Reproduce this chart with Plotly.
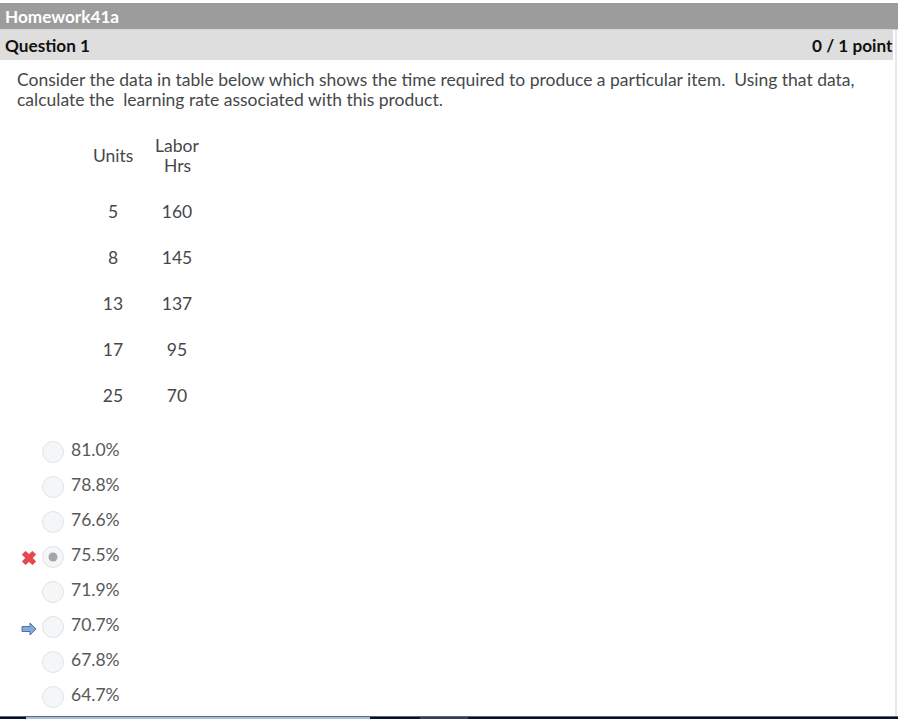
import plotly.graph_objects as go

# ---- data ----
header_title = "Homework41a"
question_label = "Question 1"
score_label = "0 / 1 point"
question_lines = [
    "Consider the data in table below which shows the time required to produce a particular item.  Using that data,",
    "calculate the  learning rate associated with this product.",
]
table_headers = ["Units", "Labor", "Hrs"]
units = [5, 8, 13, 17, 25]
labor_hrs = [160, 145, 137, 95, 70]
options = ["81.0%", "78.8%", "76.6%", "75.5%", "71.9%", "70.7%", "67.8%", "64.7%"]
selected_index = 3   # answer chosen (wrong)
correct_index = 5    # correct answer

# ---- layout constants ----
W, H = 898, 719
FONT = "Lato, 'Open Sans', sans-serif"
TXT = "#45484a"
FS = 17.5

col_x = [113, 177]
row_y0, row_dy = 214, 46
opt_y0, opt_dy = 452, 35
radio_x, opt_text_x = 53, 71

fig = go.Figure()

# table values
for ci, col in enumerate([units, labor_hrs]):
    fig.add_trace(go.Scatter(
        x=[col_x[ci]] * len(col),
        y=[row_y0 + row_dy * i for i in range(len(col))],
        mode="text", text=[str(v) for v in col],
        textfont=dict(family=FONT, size=FS, color=TXT),
        textposition="middle center", hoverinfo="skip", showlegend=False,
    ))

# radio buttons
oy = [opt_y0 + opt_dy * i for i in range(len(options))]
fig.add_trace(go.Scatter(
    x=[radio_x] * len(options), y=oy, mode="markers",
    marker=dict(symbol="circle", size=21, color="#f5f6f8",
                line=dict(color="#e1e3e6", width=1)),
    hoverinfo="skip", showlegend=False,
))
# selected dot
fig.add_trace(go.Scatter(
    x=[radio_x], y=[oy[selected_index]], mode="markers",
    marker=dict(symbol="circle", size=9, color="#a3a5a8", line=dict(width=0)),
    hoverinfo="skip", showlegend=False,
))
# wrong mark
fig.add_trace(go.Scatter(
    x=[29], y=[oy[selected_index] + 1], mode="markers",
    marker=dict(symbol="x", size=12, color="#e8474b", line=dict(color="#c0282c", width=0.5)),
    hoverinfo="skip", showlegend=False,
))
# option text
fig.add_trace(go.Scatter(
    x=[opt_text_x] * len(options), y=[v for v in oy], mode="text",
    text=options, textposition="middle right",
    textfont=dict(family=FONT, size=FS, color="#565a5c"),
    hoverinfo="skip", showlegend=False,
))

shapes = [
    # header bars
    dict(type="rect", x0=0, x1=898, y0=3, y1=29.5, fillcolor="#9c9c9c", line=dict(width=0), layer="below"),
    dict(type="rect", x0=0, x1=893, y0=29.5, y1=60, fillcolor="#dedede", line=dict(width=0), layer="below"),
    # right edge line
    dict(type="line", x0=896, x1=896, y0=29, y1=719, line=dict(color="#cfcfcf", width=1)),
    # bottom strip
    dict(type="line", x0=0, x1=898, y0=716.5, y1=716.5, line=dict(color="#3a6ea8", width=1)),
    dict(type="rect", x0=0, x1=898, y0=717, y1=719, fillcolor="#111111", line=dict(width=0)),
    dict(type="rect", x0=26, x1=370, y0=717, y1=719, fillcolor="#b8bcc2", line=dict(width=0)),
    dict(type="rect", x0=420, x1=468, y0=717, y1=719, fillcolor="#3c3c3c", line=dict(width=0)),
]
# correct-answer arrow
ay = oy[correct_index] + 2
shapes.append(dict(
    type="path",
    path=f"M 22 {ay-2.5} L 30 {ay-2.5} L 30 {ay-6} L 36 {ay} L 30 {ay+6} L 30 {ay+2.5} L 22 {ay+2.5} Z",
    fillcolor="#86a8d8", line=dict(color="#4f73a8", width=1),
))

annotations = [
    dict(x=3, y=16, text=f"<b>{header_title}</b>", xanchor="left", yanchor="middle",
         font=dict(family=FONT, size=17.2, color="white")),
    dict(x=3, y=45, text=f"<b>{question_label}</b>", xanchor="left", yanchor="middle",
         font=dict(family=FONT, size=17.2, color="#111111")),
    dict(x=895, y=45, text=f"<b>{score_label}</b>", xanchor="right", yanchor="middle",
         font=dict(family=FONT, size=17.2, color="#111111")),
    dict(x=15, y=79, text=question_lines[0], xanchor="left", yanchor="middle",
         font=dict(family=FONT, size=FS, color=TXT)),
    dict(x=15, y=99, text=question_lines[1], xanchor="left", yanchor="middle",
         font=dict(family=FONT, size=FS, color=TXT)),
    dict(x=col_x[0], y=155, text=table_headers[0], xanchor="center", yanchor="middle",
         font=dict(family=FONT, size=FS, color=TXT)),
    dict(x=col_x[1], y=145, text=table_headers[1], xanchor="center", yanchor="middle",
         font=dict(family=FONT, size=FS, color=TXT)),
    dict(x=col_x[1], y=165, text=table_headers[2], xanchor="center", yanchor="middle",
         font=dict(family=FONT, size=FS, color=TXT)),
]
for a in annotations:
    a.update(xref="x", yref="y", showarrow=False)

fig.update_layout(
    width=W, height=H, margin=dict(l=0, r=0, t=0, b=0),
    paper_bgcolor="white", plot_bgcolor="white",
    xaxis=dict(range=[0, W], visible=False, fixedrange=True),
    yaxis=dict(range=[H, 0], visible=False, fixedrange=True),
    shapes=shapes, annotations=annotations, showlegend=False,
)
fig.write_html(
    "out.html",
    config={"displayModeBar": False},
    post_script="document.body.style.margin='0';document.body.style.overflow='hidden';",
)
